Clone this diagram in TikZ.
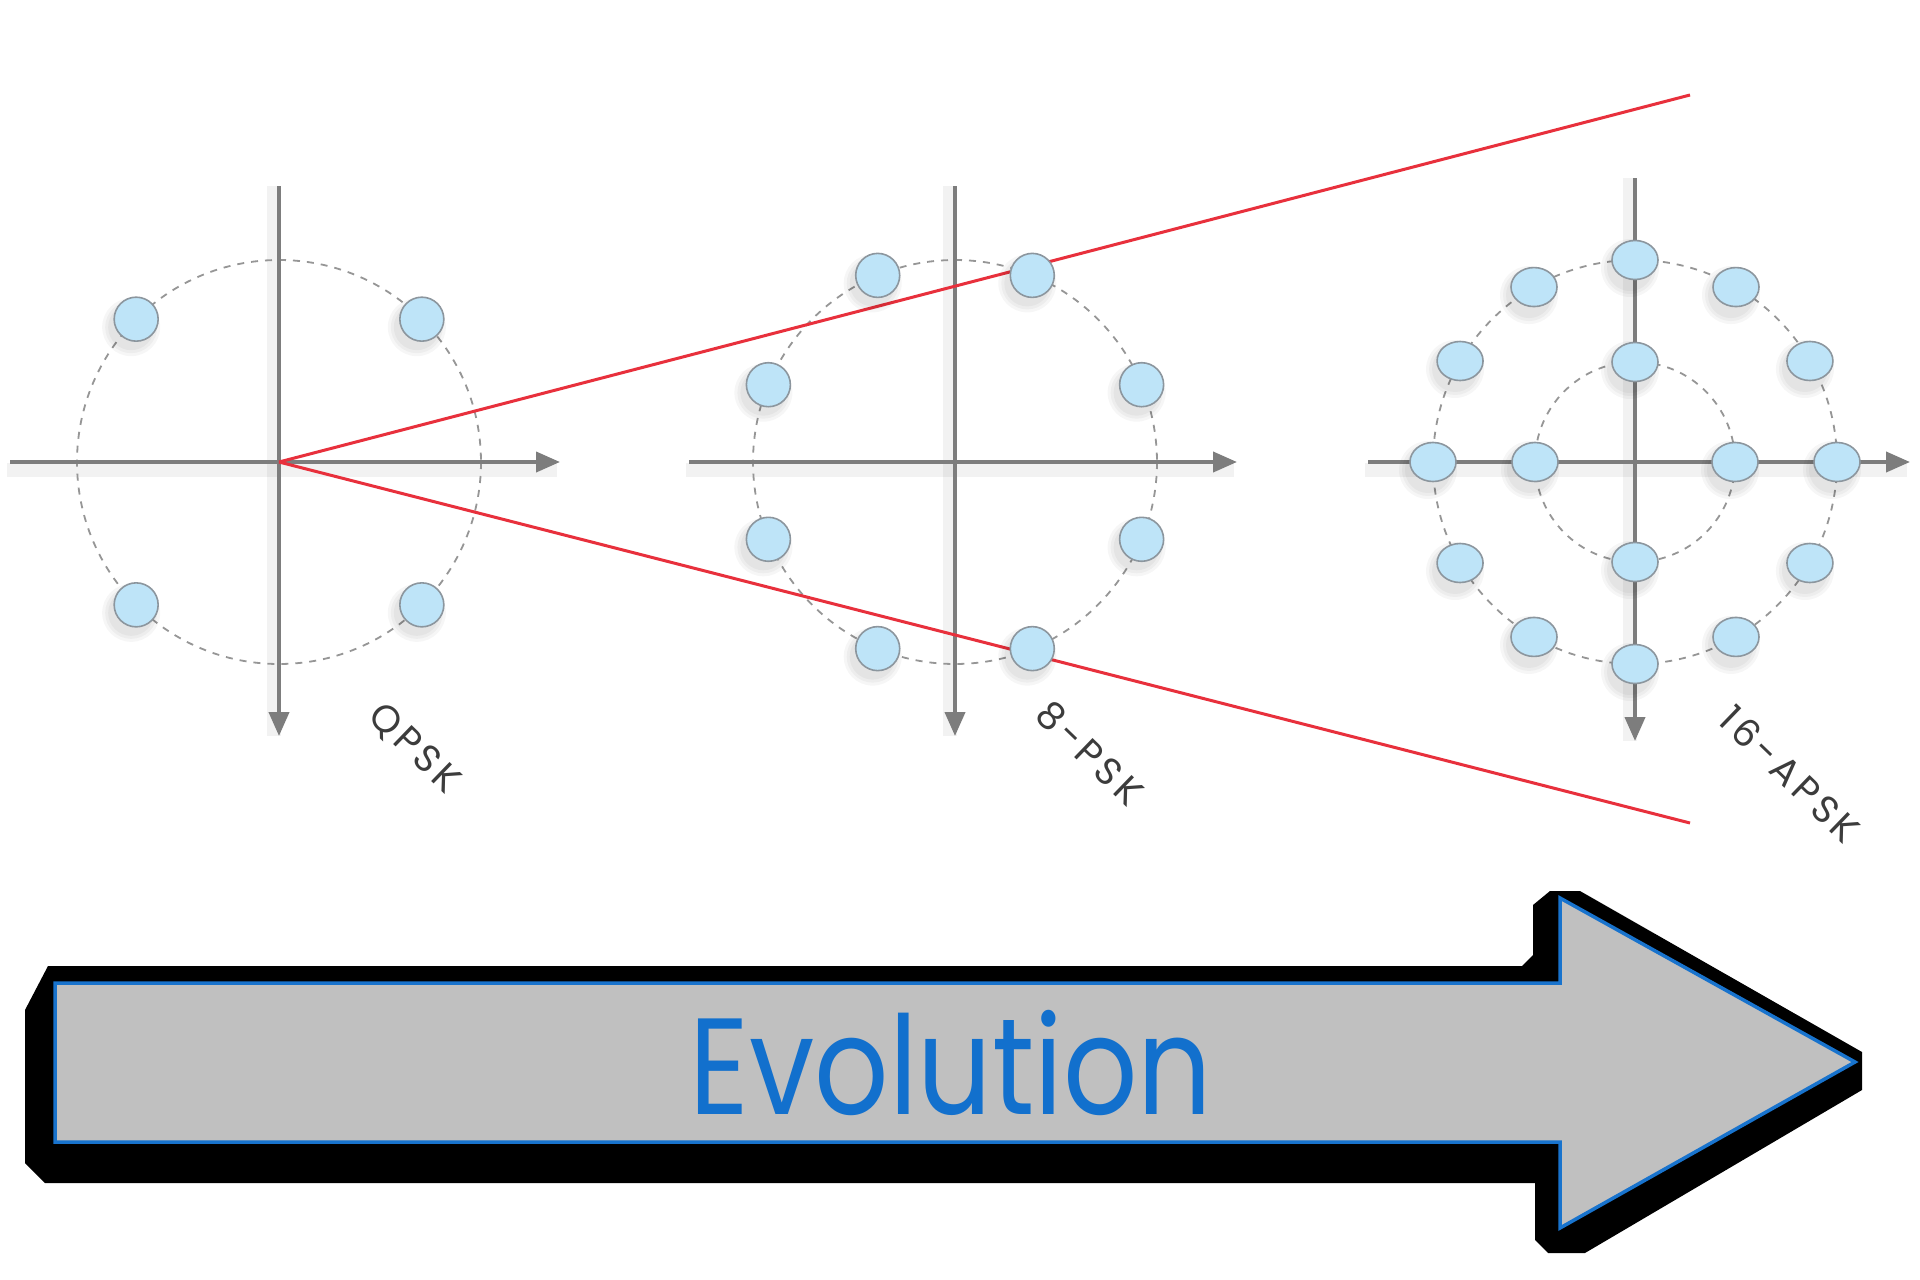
\documentclass[tikz,border=0pt]{standalone}
\usepackage{fontspec}
\setmainfont{Poppins}
\usetikzlibrary{arrows.meta,shapes.geometric}
\definecolor{axisgray}{RGB}{125,125,125}
\definecolor{ringgray}{RGB}{150,150,150}
\definecolor{dotfill}{RGB}{190,228,248}
\definecolor{dotline}{RGB}{140,150,158}
\definecolor{redln}{RGB}{232,48,60}
\definecolor{arrgray}{RGB}{192,192,192}
\definecolor{arrblue}{RGB}{24,115,205}
\definecolor{evoblue}{RGB}{18,112,205}
\definecolor{lblgray}{RGB}{60,60,60}
\tikzset{
  axisline/.style={draw=axisgray, line width=4pt, -{Triangle[length=24pt,width=20pt]}},
  axisshadow/.style={draw=black, opacity=0.05, line width=14pt},
  dashring/.style={draw=ringgray, line width=1.8pt, dash pattern=on 7pt off 7pt},
  dotshadow/.style={circle, fill=black, opacity=0.035, inner sep=0pt, minimum size=#1},
  dot/.style={circle, draw=dotline, fill=dotfill, line width=1.6pt, minimum size=44pt, inner sep=0pt},
  edot/.style={ellipse, draw=dotline, fill=dotfill, line width=1.6pt, minimum width=46pt, minimum height=39pt, inner sep=0pt},
  redline/.style={draw=redln, line width=3pt},
  lbl/.style={text=lblgray, font=\fontsize{38}{40}\selectfont\addfontfeatures{LetterSpace=12}, inner sep=0pt, rotate=-44}
}
\newcommand{\softshadow}[1]{%
  \node[dotshadow=58pt] at (#1) {};
  \node[dotshadow=52pt] at (#1) {};
  \node[dotshadow=46pt] at (#1) {};}
\begin{document}
\begin{tikzpicture}[x=1pt,y=-1pt]
\useasboundingbox (0,0) rectangle (1920,1280);
\fill[white] (0,0) rectangle (1920,1280);

% centres
\coordinate (c1) at (279,462);
\coordinate (c2) at (955,462);
\coordinate (c3) at (1635,462);

% axis end points
\coordinate (a1l) at (10,462);   \coordinate (a1r) at (560,462);
\coordinate (a1t) at (279,186);  \coordinate (a1b) at (279,736);
\coordinate (a2l) at (689,462);  \coordinate (a2r) at (1237,462);
\coordinate (a2t) at (955,186);  \coordinate (a2b) at (955,736);
\coordinate (a3l) at (1368,462); \coordinate (a3r) at (1910,462);
\coordinate (a3t) at (1635,178); \coordinate (a3b) at (1635,741);

% red line ends
\coordinate (rt) at (1690,95);
\coordinate (rb) at (1690,823);

% axis shadows
\foreach \k in {1,2,3}{
  \draw[axisshadow] ([shift={(-3,8)}]a\k l) -- ([shift={(-3,8)}]a\k r);
  \draw[axisshadow] ([shift={(-5,0)}]a\k t) -- ([shift={(-5,0)}]a\k b);
}

% dashed rings
\draw[dashring] (c1) circle[radius=202];
\draw[dashring] (c2) circle[radius=202];
\draw[dashring] (c3) circle[radius=202];
\draw[dashring] (c3) circle[radius=100];

% axes
\foreach \k in {1,2,3}{
  \draw[axisline] (a\k l) -- (a\k r);
  \draw[axisline] (a\k t) -- (a\k b);
}

% red lines
\draw[redline] (c1) -- (rt);
\draw[redline] (c1) -- (rb);

% QPSK dots
\foreach \a [count=\i] in {45,135,225,315}{
  \softshadow{[shift={(\a:202)},shift={(-5,8)}]c1}
  \node[dot] (q\i) at ([shift={(\a:202)}]c1) {};
}
% 8-PSK dots
\foreach \a [count=\i] in {22.5,67.5,112.5,157.5,202.5,247.5,292.5,337.5}{
  \softshadow{[shift={(\a:202)},shift={(-5,8)}]c2}
  \node[dot] (e\i) at ([shift={(\a:202)}]c2) {};
}
% 16-APSK dots
\foreach \a [count=\i] in {0,30,60,90,120,150,180,210,240,270,300,330}{
  \softshadow{[shift={(\a:202)},shift={(-5,8)}]c3}
  \node[edot] (o\i) at ([shift={(\a:202)}]c3) {};
}
\foreach \a [count=\i] in {0,90,180,270}{
  \softshadow{[shift={(\a:100)},shift={(-5,8)}]c3}
  \node[edot] (n\i) at ([shift={(\a:100)}]c3) {};
}

% labels
\node[lbl] (lq) at (414,749) {QPSK};
\node[lbl] (l8) at (1090,753) {8-PSK};
\node[lbl] (l16) at (1790,774) {16-APSK};

% big arrow: black extrusion
\fill[black] (48,966) -- (1522,966) -- (1533,955) -- (1533,905) -- (1550,891) -- (1580,891)
  -- (1862,1052) -- (1862,1090) -- (1585,1253) -- (1548,1253) -- (1535,1240) -- (1535,1183)
  -- (45,1183) -- (25,1163) -- (25,1010) -- cycle;
% big arrow: face
\draw[draw=arrblue, fill=arrgray, line width=3.5pt, line join=miter]
  (55,983) -- (1560,983) -- (1560,898) -- (1855,1062) -- (1560,1228) -- (1560,1142) -- (55,1142) -- cycle;

\node[text=evoblue, inner sep=0pt, anchor=base] (evo) at (951,1114)
  {\fontsize{137}{140}\selectfont\scalebox{0.85}[1]{Evolution}};
\end{tikzpicture}
\end{document}
